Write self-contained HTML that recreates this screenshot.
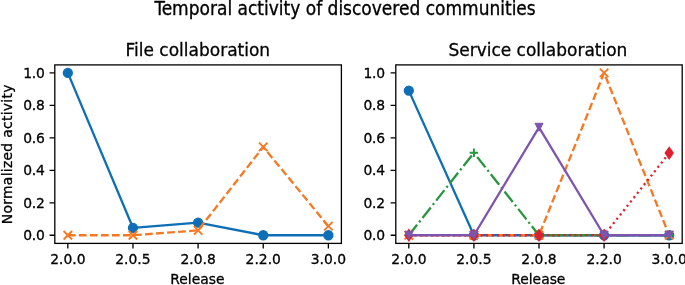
<!DOCTYPE html>
<html lang="en"><head><meta charset="utf-8"><title>Temporal activity of discovered communities</title>
<style>html,body{margin:0;padding:0;background:#fff}body{width:685px;height:285px;overflow:hidden}svg{display:block;filter:blur(0.3px)}text{font-family:"DejaVu Sans","Liberation Sans",sans-serif;stroke:#000;stroke-width:0.3px}</style>
</head><body>
<svg width="685" height="285" viewBox="0 0 685 285" font-family="'DejaVu Sans', 'Liberation Sans', sans-serif" fill="#000">
<rect width="685" height="285" fill="#fff"/>
<text x="345.10" y="15.10" font-size="18.95" text-anchor="middle" style="font-family:'DejaVu Sans Condensed','DejaVu Sans',sans-serif;font-stretch:condensed">Temporal activity of discovered communities</text>
<g>
<g clip-path="none">
<polyline points="67.83,72.90 132.96,227.78 198.10,222.59 263.24,235.25 328.37,235.25" fill="none" stroke="#0f6fb6" stroke-width="2.30" stroke-linejoin="round" stroke-linecap="square"/>
<circle cx="67.83" cy="72.90" r="4.45" fill="#0f6fb6" stroke="#0f6fb6" stroke-width="1.39"/>
<circle cx="132.96" cy="227.78" r="4.45" fill="#0f6fb6" stroke="#0f6fb6" stroke-width="1.39"/>
<circle cx="198.10" cy="222.59" r="4.45" fill="#0f6fb6" stroke="#0f6fb6" stroke-width="1.39"/>
<circle cx="263.24" cy="235.25" r="4.45" fill="#0f6fb6" stroke="#0f6fb6" stroke-width="1.39"/>
<circle cx="328.37" cy="235.25" r="4.45" fill="#0f6fb6" stroke="#0f6fb6" stroke-width="1.39"/>
<polyline points="67.83,235.25 132.96,235.25 198.10,230.38 263.24,146.93 328.37,226.16" fill="none" stroke="#f57823" stroke-width="2.30" stroke-linejoin="round" stroke-linecap="butt" stroke-dasharray="7.71,3.33"/>
<path d="M63.58 231.00L72.08 239.50M63.58 239.50L72.08 231.00" stroke="#f57823" stroke-width="1.90" fill="none"/>
<path d="M128.71 231.00L137.21 239.50M128.71 239.50L137.21 231.00" stroke="#f57823" stroke-width="1.90" fill="none"/>
<path d="M193.85 226.13L202.35 234.63M193.85 234.63L202.35 226.13" stroke="#f57823" stroke-width="1.90" fill="none"/>
<path d="M258.99 142.68L267.49 151.18M258.99 151.18L267.49 142.68" stroke="#f57823" stroke-width="1.90" fill="none"/>
<path d="M324.12 221.91L332.62 230.41M324.12 230.41L332.62 221.91" stroke="#f57823" stroke-width="1.90" fill="none"/>
</g>
<path d="M67.83 243.40v5.20M132.96 243.40v5.20M198.10 243.40v5.20M263.24 243.40v5.20M328.37 243.40v5.20M54.80 235.25h-5.20M54.80 202.78h-5.20M54.80 170.31h-5.20M54.80 137.84h-5.20M54.80 105.37h-5.20M54.80 72.90h-5.20" stroke="#000" stroke-width="1.30" fill="none"/>
<rect x="54.80" y="64.90" width="286.60" height="178.50" fill="none" stroke="#000" stroke-width="1.30"/>
<text x="67.83" y="263.70" font-size="13.89" text-anchor="middle">2.0.0</text>
<text x="132.96" y="263.70" font-size="13.89" text-anchor="middle">2.0.5</text>
<text x="198.10" y="263.70" font-size="13.89" text-anchor="middle">2.0.8</text>
<text x="263.24" y="263.70" font-size="13.89" text-anchor="middle">2.2.0</text>
<text x="328.37" y="263.70" font-size="13.89" text-anchor="middle">3.0.0</text>
<text x="44.48" y="240.25" font-size="13.89" text-anchor="end" letter-spacing="-0.3">0.0</text>
<text x="44.48" y="207.78" font-size="13.89" text-anchor="end" letter-spacing="-0.3">0.2</text>
<text x="44.48" y="175.31" font-size="13.89" text-anchor="end" letter-spacing="-0.3">0.4</text>
<text x="44.48" y="142.84" font-size="13.89" text-anchor="end" letter-spacing="-0.3">0.6</text>
<text x="44.48" y="110.37" font-size="13.89" text-anchor="end" letter-spacing="-0.3">0.8</text>
<text x="44.48" y="77.90" font-size="13.89" text-anchor="end" letter-spacing="-0.3">1.0</text>
<text x="197.40" y="284.00" font-size="13.89" text-anchor="middle">Release</text>
<text x="197.80" y="56.20" font-size="17.0" text-anchor="middle">File collaboration</text>
<text transform="translate(12.10 154.25) rotate(-90)" font-size="13.89" text-anchor="middle" letter-spacing="0.3">Normalized activity</text>
</g>
<g>
<g clip-path="none">
<polyline points="408.82,90.60 473.91,235.25 539.00,235.25 604.09,235.25 669.18,235.25" fill="none" stroke="#0f6fb6" stroke-width="2.30" stroke-linejoin="round" stroke-linecap="square"/>
<circle cx="408.82" cy="90.60" r="4.45" fill="#0f6fb6" stroke="#0f6fb6" stroke-width="1.39"/>
<circle cx="473.91" cy="235.25" r="4.45" fill="#0f6fb6" stroke="#0f6fb6" stroke-width="1.39"/>
<circle cx="539.00" cy="235.25" r="4.45" fill="#0f6fb6" stroke="#0f6fb6" stroke-width="1.39"/>
<circle cx="604.09" cy="235.25" r="4.45" fill="#0f6fb6" stroke="#0f6fb6" stroke-width="1.39"/>
<circle cx="669.18" cy="235.25" r="4.45" fill="#0f6fb6" stroke="#0f6fb6" stroke-width="1.39"/>
<polyline points="408.82,235.25 473.91,235.25 539.00,235.25 604.09,72.90 669.18,235.25" fill="none" stroke="#f57823" stroke-width="2.30" stroke-linejoin="round" stroke-linecap="butt" stroke-dasharray="7.71,3.33"/>
<path d="M404.57 231.00L413.07 239.50M404.57 239.50L413.07 231.00" stroke="#f57823" stroke-width="1.90" fill="none"/>
<path d="M469.66 231.00L478.16 239.50M469.66 239.50L478.16 231.00" stroke="#f57823" stroke-width="1.90" fill="none"/>
<path d="M534.75 231.00L543.25 239.50M534.75 239.50L543.25 231.00" stroke="#f57823" stroke-width="1.90" fill="none"/>
<path d="M599.84 68.65L608.34 77.15M599.84 77.15L608.34 68.65" stroke="#f57823" stroke-width="1.90" fill="none"/>
<path d="M664.93 231.00L673.43 239.50M664.93 239.50L673.43 231.00" stroke="#f57823" stroke-width="1.90" fill="none"/>
<polyline points="408.82,235.25 473.91,152.78 539.00,235.25 604.09,235.25 669.18,235.25" fill="none" stroke="#28963c" stroke-width="2.30" stroke-linejoin="round" stroke-linecap="butt" stroke-dasharray="13.33,3.33,2.08,3.33"/>
<path d="M404.57 235.25L413.07 235.25M408.82 231.00L408.82 239.50" stroke="#28963c" stroke-width="1.90" fill="none"/>
<path d="M469.66 152.78L478.16 152.78M473.91 148.53L473.91 157.03" stroke="#28963c" stroke-width="1.90" fill="none"/>
<path d="M534.75 235.25L543.25 235.25M539.00 231.00L539.00 239.50" stroke="#28963c" stroke-width="1.90" fill="none"/>
<path d="M599.84 235.25L608.34 235.25M604.09 231.00L604.09 239.50" stroke="#28963c" stroke-width="1.90" fill="none"/>
<path d="M664.93 235.25L673.43 235.25M669.18 231.00L669.18 239.50" stroke="#28963c" stroke-width="1.90" fill="none"/>
<polyline points="408.82,235.25 473.91,235.25 539.00,235.25 604.09,235.25 669.18,153.10" fill="none" stroke="#e11e2d" stroke-width="2.30" stroke-linejoin="round" stroke-linecap="butt" stroke-dasharray="2.08,3.44"/>
<path d="M408.82 228.45L413.52 235.25L408.82 242.05L404.12 235.25Z" fill="#e11e2d"/>
<path d="M473.91 228.45L478.61 235.25L473.91 242.05L469.21 235.25Z" fill="#e11e2d"/>
<path d="M539.00 228.45L543.70 235.25L539.00 242.05L534.30 235.25Z" fill="#e11e2d"/>
<path d="M604.09 228.45L608.79 235.25L604.09 242.05L599.39 235.25Z" fill="#e11e2d"/>
<path d="M669.18 146.30L673.88 153.10L669.18 159.90L664.48 153.10Z" fill="#e11e2d"/>
<polyline points="408.82,235.25 473.91,235.25 539.00,127.29 604.09,235.25 669.18,235.25" fill="none" stroke="#7d55af" stroke-width="2.30" stroke-linejoin="round" stroke-linecap="square"/>
<path d="M404.82 231.25L412.82 231.25L408.82 239.25Z" fill="#7d55af" stroke="#7d55af" stroke-width="1.00" stroke-linejoin="miter"/>
<path d="M469.91 231.25L477.91 231.25L473.91 239.25Z" fill="#7d55af" stroke="#7d55af" stroke-width="1.00" stroke-linejoin="miter"/>
<path d="M535.00 123.29L543.00 123.29L539.00 131.29Z" fill="#7d55af" stroke="#7d55af" stroke-width="1.00" stroke-linejoin="miter"/>
<path d="M600.09 231.25L608.09 231.25L604.09 239.25Z" fill="#7d55af" stroke="#7d55af" stroke-width="1.00" stroke-linejoin="miter"/>
<path d="M665.18 231.25L673.18 231.25L669.18 239.25Z" fill="#7d55af" stroke="#7d55af" stroke-width="1.00" stroke-linejoin="miter"/>
</g>
<path d="M408.82 243.40v5.20M473.91 243.40v5.20M539.00 243.40v5.20M604.09 243.40v5.20M669.18 243.40v5.20M395.80 235.25h-5.20M395.80 202.78h-5.20M395.80 170.31h-5.20M395.80 137.84h-5.20M395.80 105.37h-5.20M395.80 72.90h-5.20" stroke="#000" stroke-width="1.30" fill="none"/>
<rect x="395.80" y="64.90" width="286.40" height="178.50" fill="none" stroke="#000" stroke-width="1.30"/>
<text x="408.82" y="263.70" font-size="13.89" text-anchor="middle">2.0.0</text>
<text x="473.91" y="263.70" font-size="13.89" text-anchor="middle">2.0.5</text>
<text x="539.00" y="263.70" font-size="13.89" text-anchor="middle">2.0.8</text>
<text x="604.09" y="263.70" font-size="13.89" text-anchor="middle">2.2.0</text>
<text x="669.18" y="263.70" font-size="13.89" text-anchor="middle">3.0.0</text>
<text x="384.68" y="240.25" font-size="13.89" text-anchor="end" letter-spacing="-0.3">0.0</text>
<text x="384.68" y="207.78" font-size="13.89" text-anchor="end" letter-spacing="-0.3">0.2</text>
<text x="384.68" y="175.31" font-size="13.89" text-anchor="end" letter-spacing="-0.3">0.4</text>
<text x="384.68" y="142.84" font-size="13.89" text-anchor="end" letter-spacing="-0.3">0.6</text>
<text x="384.68" y="110.37" font-size="13.89" text-anchor="end" letter-spacing="-0.3">0.8</text>
<text x="384.68" y="77.90" font-size="13.89" text-anchor="end" letter-spacing="-0.3">1.0</text>
<text x="538.30" y="284.00" font-size="13.89" text-anchor="middle">Release</text>
<text x="537.90" y="56.20" font-size="17.0" text-anchor="middle">Service collaboration</text>
</g>
</svg>
</body></html>
